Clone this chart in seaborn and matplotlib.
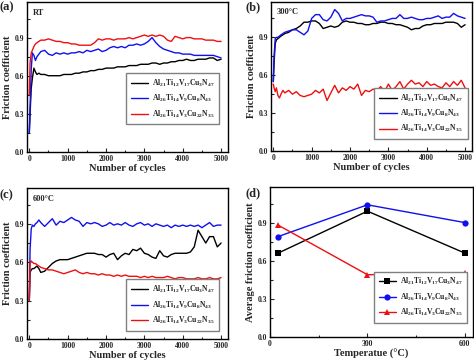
import pandas as pd
import matplotlib
matplotlib.use("Agg")
import matplotlib.pyplot as plt
from matplotlib.ticker import MultipleLocator
import seaborn as sns

# sampled cycle positions (same for every panel)
cycles = [0, 20, 50, 80, 120, 160, 200, 250,
          300, 400, 500, 600, 700, 800, 900, 1000,
          1100, 1200, 1300, 1400, 1500, 1600, 1700, 1800,
          1900, 2000, 2100, 2200, 2300, 2400, 2500, 2600,
          2700, 2800, 2900, 3000, 3100, 3200, 3300, 3400,
          3500, 3600, 3700, 3800, 3900, 4000, 4100, 4200,
          4300, 4400, 4500, 4600, 4700, 4800, 4900, 5000]

# (a) RT
rt_c1 = [0.15, 0.30, 0.50, 0.58, 0.66, 0.63, 0.61, 0.62,
         0.61, 0.61, 0.60, 0.60, 0.60, 0.60, 0.61, 0.61,
         0.61, 0.62, 0.62, 0.63, 0.63, 0.64, 0.64, 0.65,
         0.65, 0.66, 0.66, 0.66, 0.67, 0.67, 0.67, 0.68,
         0.68, 0.68, 0.69, 0.69, 0.69, 0.70, 0.70, 0.69,
         0.70, 0.70, 0.71, 0.71, 0.72, 0.72, 0.73, 0.72,
         0.72, 0.73, 0.73, 0.73, 0.74, 0.74, 0.72, 0.73]
rt_c2 = [0.15, 0.35, 0.65, 0.78, 0.76, 0.72, 0.75, 0.77,
         0.79, 0.80, 0.77, 0.76, 0.78, 0.77, 0.78, 0.77,
         0.78, 0.78, 0.79, 0.78, 0.80, 0.79, 0.80, 0.81,
         0.79, 0.80, 0.82, 0.83, 0.82, 0.83, 0.82, 0.84,
         0.84, 0.85, 0.84, 0.85, 0.87, 0.90, 0.86, 0.83,
         0.81, 0.80, 0.79, 0.78, 0.78, 0.77, 0.77, 0.77,
         0.76, 0.76, 0.76, 0.76, 0.76, 0.76, 0.75, 0.74]
rt_c3 = [0.45, 0.70, 0.78, 0.80, 0.83, 0.85, 0.86, 0.87,
         0.88, 0.88, 0.89, 0.88, 0.87, 0.87, 0.86, 0.86,
         0.85, 0.85, 0.84, 0.84, 0.84, 0.84, 0.86, 0.89,
         0.88, 0.89, 0.89, 0.88, 0.89, 0.89, 0.89, 0.90,
         0.89, 0.90, 0.91, 0.92, 0.91, 0.92, 0.91, 0.92,
         0.91, 0.88, 0.87, 0.91, 0.90, 0.89, 0.90, 0.90,
         0.89, 0.89, 0.89, 0.88, 0.88, 0.88, 0.87, 0.87]

# (b) 300 C
t300_c1 = [0.55, 0.70, 0.85, 0.88, 0.89, 0.90, 0.91, 0.92,
           0.93, 0.94, 0.96, 0.97, 0.99, 1.02, 1.02, 1.03,
           1.03, 1.01, 0.97, 0.98, 0.99, 0.98, 0.99, 1.02,
           1.03, 1.02, 1.02, 1.01, 1.01, 1.00, 1.00, 1.01,
           1.01, 1.02, 1.02, 1.01, 1.01, 1.00, 1.00, 0.99,
           0.98, 0.96, 0.97, 0.97, 0.99, 1.00, 1.00, 1.01,
           1.01, 1.01, 1.02, 1.02, 1.02, 1.01, 0.98, 1.00]
t300_c2 = [0.55, 0.75, 0.89, 0.90, 0.90, 0.91, 0.92, 0.93,
           0.94, 0.95, 0.96, 0.96, 0.94, 0.92, 0.95, 1.05,
           1.08, 1.08, 1.04, 1.03, 1.06, 1.12, 1.09, 1.03,
           1.05, 1.05, 1.06, 1.07, 1.08, 1.07, 1.07, 1.06,
           1.02, 1.03, 1.03, 1.04, 1.05, 1.05, 1.08, 1.05,
           1.05, 1.06, 1.05, 1.04, 1.04, 1.05, 1.05, 1.06,
           1.07, 1.05, 1.06, 1.06, 1.09, 1.07, 1.06, 1.05]
t300_c3 = [0.53, 0.50, 0.47, 0.50, 0.44, 0.42, 0.45, 0.48,
           0.46, 0.48, 0.45, 0.47, 0.44, 0.43, 0.44, 0.45,
           0.48, 0.46, 0.49, 0.40, 0.46, 0.52, 0.46, 0.50,
           0.48, 0.51, 0.49, 0.53, 0.44, 0.48, 0.47, 0.49,
           0.48, 0.51, 0.47, 0.53, 0.48, 0.51, 0.55, 0.49,
           0.53, 0.56, 0.53, 0.54, 0.51, 0.55, 0.52, 0.53,
           0.51, 0.50, 0.54, 0.51, 0.55, 0.52, 0.56, 0.50]

# (c) 600 C
t600_c1 = [0.30, 0.52, 0.54, 0.55, 0.55, 0.56, 0.57, 0.55,
           0.52, 0.53, 0.56, 0.59, 0.61, 0.62, 0.62, 0.62,
           0.63, 0.64, 0.65, 0.66, 0.67, 0.67, 0.67, 0.66,
           0.66, 0.64, 0.66, 0.67, 0.62, 0.65, 0.67, 0.66,
           0.70, 0.69, 0.71, 0.67, 0.66, 0.64, 0.63, 0.69,
           0.65, 0.64, 0.66, 0.67, 0.67, 0.67, 0.67, 0.68,
           0.72, 0.85, 0.80, 0.75, 0.80, 0.80, 0.72, 0.75]
t600_c2 = [0.30, 0.70, 0.86, 0.89, 0.88, 0.90, 0.91, 0.93,
           0.91, 0.88, 0.91, 0.94, 0.89, 0.92, 0.91, 0.93,
           0.95, 0.93, 0.92, 0.88, 0.91, 0.90, 0.91, 0.90,
           0.88, 0.89, 0.91, 0.89, 0.90, 0.89, 0.91, 0.89,
           0.88, 0.90, 0.91, 0.89, 0.90, 0.88, 0.90, 0.89,
           0.88, 0.89, 0.87, 0.89, 0.88, 0.89, 0.88, 0.89,
           0.88, 0.89, 0.87, 0.89, 0.91, 0.88, 0.89, 0.89]
t600_c3 = [0.30, 0.60, 0.61, 0.60, 0.59, 0.59, 0.58, 0.57,
           0.56, 0.55, 0.54, 0.54, 0.53, 0.52, 0.51, 0.52,
           0.53, 0.54, 0.52, 0.51, 0.52, 0.51, 0.51, 0.50,
           0.51, 0.50, 0.50, 0.49, 0.50, 0.49, 0.50, 0.49,
           0.49, 0.49, 0.48, 0.49, 0.48, 0.49, 0.48, 0.48,
           0.48, 0.49, 0.48, 0.47, 0.48, 0.48, 0.47, 0.47,
           0.47, 0.48, 0.47, 0.47, 0.48, 0.47, 0.47, 0.48]

# (d) averages
temps = [25, 300, 600]
avg_c1 = [0.66, 0.99, 0.66]
avg_c2 = [0.79, 1.04, 0.90]
avg_c3 = [0.88, 0.49, 0.50]

names = [r"$\mathbf{Al_{21}Ti_{12}V_{17}Cu_{3}N_{47}}$",
         r"$\mathbf{Al_{26}Ti_{14}V_{9}Cu_{8}N_{43}}$",
         r"$\mathbf{Al_{26}Ti_{14}V_{3}Cu_{22}N_{35}}$"]
colors = ["black", "#1010ee", "#ee1010"]

sns.set_style("ticks")
plt.rcParams["font.family"] = ["Liberation Serif", "DejaVu Serif"]
plt.rcParams["font.weight"] = "bold"
plt.rcParams["axes.labelweight"] = "bold"
plt.rcParams["mathtext.fontset"] = "custom"
plt.rcParams["mathtext.rm"] = "Liberation Serif:bold"
plt.rcParams["mathtext.bf"] = "Liberation Serif:bold"
plt.rcParams["mathtext.it"] = "Liberation Serif:bold:italic"

fig = plt.figure(figsize=(4.74, 3.62), dpi=100)
W, H = 474, 362


def box(x0, y0, x1, y1):
    return [x0 / W, 1 - y1 / H, (x1 - x0) / W, (y1 - y0) / H]


ax_a = fig.add_axes(box(27, 2, 228, 152))
ax_b = fig.add_axes(box(271, 2, 472, 151))
ax_c = fig.add_axes(box(27, 188, 228, 339))
ax_d = fig.add_axes(box(270, 187, 473, 337))


def style(ax, xlabel, ylabel):
    ax.set_ylim(0, 1.18)
    ax.yaxis.set_major_locator(MultipleLocator(0.3))
    ax.yaxis.set_minor_locator(MultipleLocator(0.15))
    ax.yaxis.set_major_formatter(matplotlib.ticker.FormatStrFormatter("%.1f"))
    ax.tick_params(which="both", direction="in", top=False, right=False,
                   labelsize=5.5, width=0.8, pad=2)
    ax.tick_params(which="major", length=3)
    ax.tick_params(which="minor", length=1.8)
    for s in ax.spines.values():
        s.set_linewidth(1.0)
        s.set_color("black")
    ax.set_xlabel(xlabel, fontsize=7.5, labelpad=1)
    ax.set_ylabel(ylabel, fontsize=7.5, labelpad=2)
    for t in ax.get_xticklabels() + ax.get_yticklabels():
        t.set_fontweight("bold")


def cycle_panel(ax, series, tag, anchor):
    rows = []
    for name, vals in zip(names, series):
        for c, v in zip(cycles, vals):
            rows.append({"cycle": c, "mu": v, "film": name})
    df = pd.DataFrame(rows)
    sns.lineplot(data=df, x="cycle", y="mu", hue="film", hue_order=names,
                 palette=colors, estimator=None, sort=False, linewidth=1.0,
                 ax=ax)
    ax.set_xlim(-60, 5180)
    ax.xaxis.set_major_locator(MultipleLocator(1000))
    ax.xaxis.set_minor_locator(MultipleLocator(500))
    style(ax, "Number of cycles", "Friction coefficient")
    ax.text(0.03, 0.93, tag, transform=ax.transAxes, fontsize=6,
            fontweight="bold", va="center")
    ax.legend(loc="lower right", bbox_to_anchor=anchor, fontsize=5.5,
              fancybox=False, edgecolor="#808080", framealpha=1,
              handlelength=2.3, labelspacing=0.55, borderpad=0.6,
              handletextpad=0.5)


cycle_panel(ax_a, [rt_c1, rt_c2, rt_c3], "RT", (0.975, 0.16))
cycle_panel(ax_b, [t300_c1, t300_c2, t300_c3], "300°C", (0.997, 0.055))
cycle_panel(ax_c, [t600_c1, t600_c2, t600_c3], "600°C", (0.975, 0.03))

# (d) average friction coefficient vs temperature
rows = []
for name, vals in zip(names, [avg_c1, avg_c2, avg_c3]):
    for t, v in zip(temps, vals):
        rows.append({"temp": t, "mu": v, "film": name})
df_d = pd.DataFrame(rows)
sns.lineplot(data=df_d, x="temp", y="mu", hue="film", hue_order=names,
             palette=colors, style="film", style_order=names,
             markers=["s", "o", "^"], dashes=False, markersize=4.5,
             markeredgewidth=0, linewidth=1.0, ax=ax_d)
ax_d.set_xlim(0, 625)
ax_d.xaxis.set_major_locator(MultipleLocator(300))
ax_d.xaxis.set_minor_locator(MultipleLocator(150))
style(ax_d, "Temperatue (°C)", "Average friction coefficient")
ax_d.legend(loc="lower right", bbox_to_anchor=(0.99, 0.07), fontsize=5.5,
            fancybox=False, edgecolor="#808080", framealpha=1,
            handlelength=2.3, labelspacing=0.55, borderpad=0.6,
            handletextpad=0.5)

for lab, x, y in [("(a)", 0, 7), ("(b)", 246, 7), ("(c)", 0, 195), ("(d)", 246, 193)]:
    fig.text(x / W, 1 - y / H, lab, fontsize=9, fontweight="bold",
             ha="left", va="center")

fig.savefig("out.png", dpi=100)
